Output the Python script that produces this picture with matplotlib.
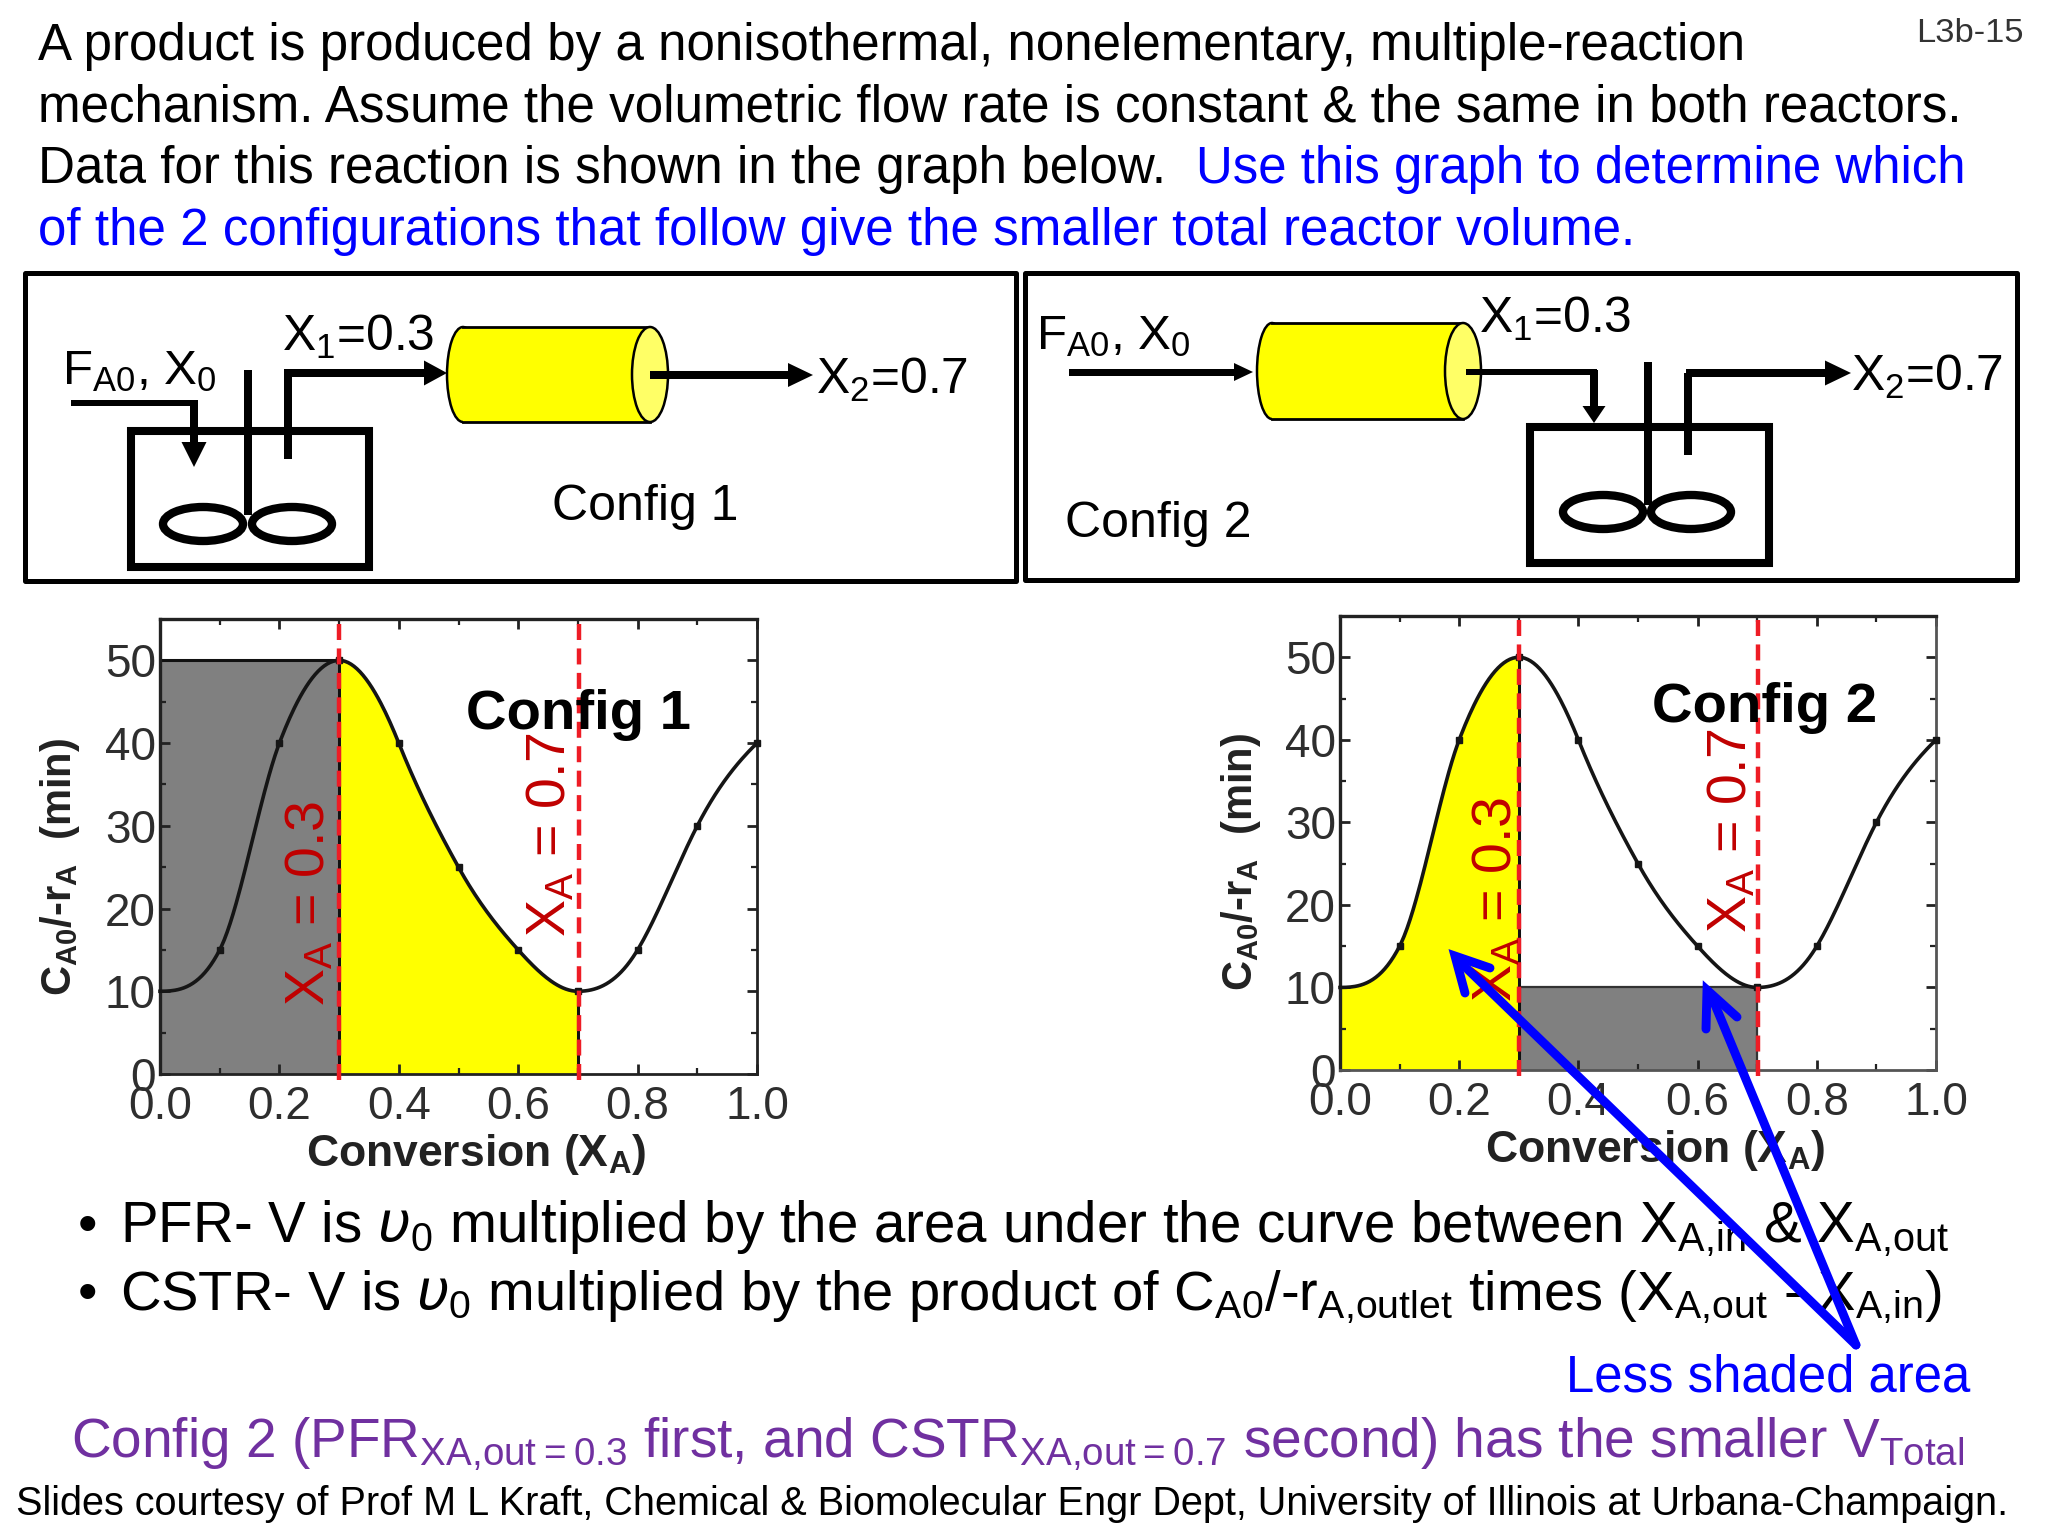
import numpy as np
import matplotlib
matplotlib.use("Agg")
import matplotlib.pyplot as plt
from matplotlib.patches import Rectangle, Ellipse, Polygon

plt.rcParams['font.family'] = ['Liberation Sans', 'DejaVu Sans']
plt.rcParams['mathtext.default'] = 'regular'

# ---- data ----
conversion = [0.0, 0.1, 0.2, 0.3, 0.4, 0.5, 0.6, 0.7, 0.8, 0.9, 1.0]
levenspiel = [10, 15, 40, 50, 40, 25, 15, 10, 15, 30, 40]
slopes = [0, 140, 190, 0, -180, -130, -80, 0, 120, 140, 70]   # curve tangents at the points
x_tick_labels = ['0.0', '0.2', '0.4', '0.6', '0.8', '1.0']
y_ticks = [0, 10, 20, 30, 40, 50]
x1_value = 0.3
x2_value = 0.7
marker_lines = [0.3, 0.702]

headline = ["A product is produced by a nonisothermal, nonelementary, multiple-reaction",
            "mechanism. Assume the volumetric flow rate is constant & the same in both reactors.",
            "Data for this reaction is shown in the graph below."]
headline_blue = ["Use this graph to determine which",
                 "of the 2 configurations that follow give the smaller total reactor volume."]
bullet1 = r"PFR- V is $\mathit{\upsilon}_0$ multiplied by the area under the curve between X$_{A{,}in}$ & X$_{A{,}out}$"
bullet2 = r"CSTR- V is $\mathit{\upsilon}_0$ multiplied by the product of C$_{A0}$/-r$_{A{,}outlet}$ times (X$_{A{,}out}$ - X$_{A{,}in}$)"
conclusion = r"Config 2 (PFR$_{XA{,}out{=}0.3}$ first, and CSTR$_{XA{,}out{=}0.7}$ second) has the smaller V$_{Total}$"
credit = "Slides courtesy of Prof M L Kraft, Chemical & Biomolecular Engr Dept, University of Illinois at Urbana-Champaign."

W, H = 2048, 1536
fig = plt.figure(figsize=(W/100, H/100), dpi=100, facecolor='white')


def smooth_curve(n=40):
    xs, ys = [], []
    for i in range(len(conversion) - 1):
        h = conversion[i+1] - conversion[i]
        t = np.linspace(0, 1, n, endpoint=False)
        y = ((2*t**3 - 3*t**2 + 1)*levenspiel[i] + (t**3 - 2*t**2 + t)*h*slopes[i]
             + (-2*t**3 + 3*t**2)*levenspiel[i+1] + (t**3 - t**2)*h*slopes[i+1])
        xs.append(conversion[i] + h*t)
        ys.append(y)
    return np.r_[np.concatenate(xs), conversion[-1]], np.r_[np.concatenate(ys), levenspiel[-1]]


def chart(left, right, top, bottom, config):
    ax = fig.add_axes([left/W, 1 - bottom/H, (right-left)/W, (bottom-top)/H])
    cx, cy = smooth_curve()
    in1 = cx <= x1_value + 1e-9
    in2 = (cx >= x1_value - 1e-9) & (cx <= x2_value + 1e-9)
    if config == 1:
        ax.fill_between([0, x1_value], 0, max(levenspiel), color='#808080', lw=0, zorder=1)
        ax.fill_between(cx[in2], 0, cy[in2], color='#ffff00', lw=0, zorder=1)
        ax.plot([0, x1_value], [50, 50], color='#111111', lw=2.2, zorder=2)
        ax.plot([x1_value, x1_value], [0, 50], color='#111111', lw=2.2, zorder=2)
        ax.plot([x2_value, x2_value], [0, 10], color='#111111', lw=2.2, zorder=2)
    else:
        ax.fill_between(cx[in1], 0, cy[in1], color='#ffff00', lw=0, zorder=1)
        ax.fill_between([x1_value, x2_value], 0, 10, color='#808080', lw=0, zorder=1)
        ax.plot([x1_value, x2_value, x2_value], [10, 10, 0], color='#333333', lw=1.6, zorder=2)
        ax.plot([x1_value, x1_value], [0, 50], color='#111111', lw=2.2, zorder=2)
    ax.plot(cx, cy, color='#151515', lw=2.6, zorder=3, clip_on=False)
    ax.plot(conversion, levenspiel, ls='none', marker='s', ms=5, color='#151515', zorder=3,
            clip_on=False, markevery=slice(1, None))
    for xv in marker_lines:
        ax.plot([xv, xv], [-0.7, 54.7], color='#ee1c25', lw=3.2, dashes=(3.6, 1.9),
                zorder=5, clip_on=False)
    ax.set_xlim(0, 1)
    ax.set_ylim(0, 55)
    ax.set_xticks(np.arange(0, 1.01, 0.2))
    ax.set_xticklabels(x_tick_labels)
    ax.set_xticks(np.arange(0.1, 1, 0.2), minor=True)
    ax.set_yticks(y_ticks)
    ax.set_yticks(np.arange(5, 55, 10), minor=True)
    ax.tick_params(which='major', direction='in', top=True, right=True, length=7, width=2,
                   color='#222222', labelsize=33, labelcolor='#2e2e2e')
    ax.tick_params(which='minor', direction='in', top=True, right=True, length=4, width=1.6, color='#222222')
    ax.tick_params(axis='x', which='major', pad=8)
    ax.tick_params(axis='y', which='major', pad=3)
    for name, sp in ax.spines.items():
        sp.set_linewidth(2.4 if name in ('top', 'left') else 2)
        sp.set_color('#222222' if (config == 1 or name in ('top', 'left')) else '#555555')
    return ax


chart(160, 757, 619, 1074, 1)
chart(1340, 1936, 616, 1070, 2)

ov = fig.add_axes([0, 0, 1, 1], zorder=10)
ov.set_xlim(0, W)
ov.set_ylim(H, 0)
ov.axis('off')
ov.patch.set_visible(False)


def T(x, y, s, size, color='black', ha='left', **kw):
    return ov.text(x, y, s, fontsize=size, color=color, ha=ha, va='baseline', **kw)


def bar(x0, y0, x1, y1, w):
    ov.add_patch(Rectangle((min(x0, x1) - (w/2 if x0 == x1 else 0), min(y0, y1) - (w/2 if y0 == y1 else 0)),
                           abs(x1-x0) if y0 == y1 else w, abs(y1-y0) if x0 == x1 else w,
                           fc='black', ec='none', zorder=3))


def head_h(tip, base, y, height):
    ov.add_patch(Polygon([(tip, y), (base, y-height/2), (base, y+height/2)], fc='black', ec='none', zorder=3))


def head_v(x, tip, base, width):
    ov.add_patch(Polygon([(x, tip), (x-width/2, base), (x+width/2, base)], fc='black', ec='none', zorder=3))


def box(x0, y0, x1, y1):
    ov.add_patch(Rectangle((x0, y0), x1-x0, y1-y0, fc='none', ec='black', lw=3.6, zorder=2, joinstyle='round'))


def cylinder(xl, xr, y0, y1, rx):
    ym, h = (y0+y1)/2, y1-y0
    ov.add_patch(Ellipse((xl+rx, ym), 2*rx, h, fc='#ffff00', ec='black', lw=1.8, zorder=1))
    ov.add_patch(Rectangle((xl+rx, y0), xr-xl-rx, h, fc='#ffff00', ec='none', zorder=1.1))
    ov.plot([xl+rx, xr], [y0, y0], color='black', lw=2, zorder=1.2)
    ov.plot([xl+rx, xr], [y1, y1], color='black', lw=2, zorder=1.2)
    ov.add_patch(Ellipse((xr, ym), 36, h, fc='#ffff66', ec='black', lw=1.8, zorder=1.3))


def cstr(x0, y0, x1, y1, xa, xb, yi):
    ov.add_patch(Rectangle((x0, y0), x1-x0, y1-y0, fc='none', ec='black', lw=5.8, zorder=2, joinstyle='miter'))
    for xc in (xa, xb):
        ov.add_patch(Ellipse((xc, yi), 80, 34, fc='none', ec='black', lw=6, zorder=2))


# ---- headline ----
T(2024, 42, "L3b-15", 24.8, '#333333', ha='right')
for yy, s in zip((60, 122, 183), headline):
    T(38, yy, s, 36.8)
T(1196, 183, headline_blue[0], 36.75, '#0000ff')
T(38, 245, headline_blue[1], 36.8, '#0000ff')

# ---- flow diagram, config 1 ----
box(25, 273, 1016, 581)
cstr(131, 431, 369, 567, 203, 292, 524)
bar(248, 370, 248, 515, 8.5)
bar(288, 373, 288, 459, 8.5)
bar(284, 373, 430, 373, 8)
head_h(447, 424, 373, 25)
bar(71, 403, 197, 403, 6)
bar(194, 400, 194, 445, 8)
head_v(194, 467, 442, 25)
cylinder(447, 650, 327, 422, 16)
bar(650, 375, 792, 375, 8)
head_h(813, 788, 375, 24)
T(62, 384, r"F$_{A0}$, X$_0$", 35.5)
T(282, 351, r"X$_1$=0.3", 35.8)
T(816, 394, r"X$_2$=0.7", 35.8)
T(552, 520, "Config 1", 36)

# ---- flow diagram, config 2 ----
box(1025, 273, 2017, 580)
cstr(1530, 427, 1769, 563, 1603, 1691, 512)
bar(1648, 362, 1648, 505, 8.5)
bar(1688, 373, 1688, 455, 8.5)
bar(1686, 373, 1830, 373, 8)
head_h(1851, 1825, 373, 25)
bar(1069, 372, 1238, 372, 7)
head_h(1253, 1234, 372, 18)
cylinder(1257, 1463, 323, 419, 15)
bar(1466, 372, 1597, 372, 6)
bar(1594, 370, 1594, 410, 8)
head_v(1594, 423, 406, 23)
T(1036, 349, r"F$_{A0}$, X$_0$", 35.5)
T(1479, 333, r"X$_1$=0.3", 35.8)
T(1851, 391, r"X$_2$=0.7", 35.8)
T(1065, 537, "Config 2", 36)

# ---- annotations on the graphs ----
T(578, 729, "Config 1", 40.5, ha='center', fontweight='bold')
T(1765, 722, "Config 2", 40.5, ha='center', fontweight='bold')
RED = '#c00000'
for xp, yp, s in ((336, 1006, r"X$_A$ = 0.3"), (577, 937, r"X$_A$ = 0.7"),
                  (1523, 1002, r"X$_A$ = 0.3"), (1758, 933, r"X$_A$ = 0.7")):
    ov.text(xp, yp, s, fontsize=40, color=RED, rotation=90, ha='left', va='bottom',
            rotation_mode='anchor')
T(476, 1166, r"Conversion (X$_A$)", 32, '#222222', ha='center', fontweight='bold')
T(1655, 1162, r"Conversion (X$_A$)", 32, '#222222', ha='center', fontweight='bold')
ov.text(60, 867, r"C$_{A0}$/-r$_A$  (min)", fontsize=30, color='#222222', rotation=90,
        ha='center', va='center', fontweight='bold')
ov.text(1241, 862, r"C$_{A0}$/-r$_A$  (min)", fontsize=30, color='#222222', rotation=90,
        ha='center', va='center', fontweight='bold')

# ---- bullets and closing lines ----
T(78, 1242, "•", 40)
T(120, 1242, bullet1, 40.7)
T(78, 1310, "•", 40)
T(120, 1310, bullet2, 40.4)
T(1566, 1391, "Less shaded area", 36.6, '#0000ff')
T(71, 1457, conclusion, 39.6, '#7030a0')
T(16, 1515, credit, 28.55)

# ---- blue arrows ----
BLUE = '#0000ff'
start = (1856, 1345)
for tip, b1, b2 in (((1455, 956), (1490, 968), (1465, 993)),
                    ((1707, 990), (1737, 1017), (1706, 1029))):
    ov.plot([start[0], tip[0]+4], [start[1], tip[1]+5], color=BLUE, lw=6.4, solid_capstyle='round', zorder=8)
    ov.plot([b1[0], tip[0], b2[0]], [b1[1], tip[1], b2[1]], color=BLUE, lw=6.4,
            solid_capstyle='round', solid_joinstyle='miter', zorder=8)

fig.savefig('out.png', dpi=100, facecolor='white')
